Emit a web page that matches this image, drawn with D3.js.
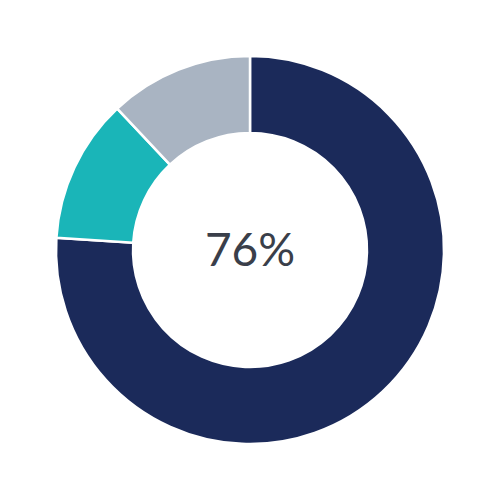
<!DOCTYPE html>
<html><head><meta charset="utf-8">
<script src="https://cdn.jsdelivr.net/npm/d3@7"></script>
<style>body{margin:0;background:#fff}</style></head>
<body><svg id="c" width="500" height="500"></svg>
<script>
const categories = ["A", "B", "C"];
const values = [76, 12, 12];
const colors = ["#1b2a5a", "#1ab5b8", "#a9b4c2"];
const centerLabel = "76%";

const svg = d3.select("#c");
const g = svg.append("g").attr("transform", "translate(250,250)");
const pie = d3.pie().sort(null).value(d => d)(values);
const arc = d3.arc().innerRadius(117).outerRadius(194);
g.selectAll("path").data(pie).join("path")
  .attr("d", arc)
  .attr("fill", (d, i) => colors[i])
  .attr("stroke", "#fff").attr("stroke-width", 2.5);
g.append("text").attr("text-anchor", "middle").attr("dy", "0.35em")
  .attr("font-family", "Lato, 'Open Sans', sans-serif").attr("font-size", 46)
  .attr("fill", "#3a3f4a").text(centerLabel);
</script></body></html>
